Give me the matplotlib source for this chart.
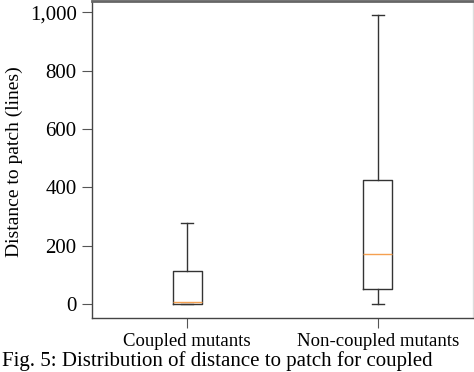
import matplotlib
matplotlib.use("Agg")
import matplotlib.pyplot as plt
from matplotlib.ticker import FuncFormatter

# Valori (distanza dalla patch, in linee)
labels = ["Coupled mutants", "Non-coupled mutants"]
whisker_low = [0, 0]
q1 = [0, 51]
median = [6, 171]
q3 = [113, 425]
whisker_high = [277, 990]

plt.rcParams["font.family"] = ["Liberation Serif", "DejaVu Serif"]

fig = plt.figure(figsize=(4.74, 3.72), dpi=100)
ax = fig.add_axes([0.194, 0.145, 0.804, 0.852])

stats = []
for i, lbl in enumerate(labels):
    stats.append({
        "label": lbl,
        "whislo": whisker_low[i],
        "q1": q1[i],
        "med": median[i],
        "q3": q3[i],
        "whishi": whisker_high[i],
        "fliers": [],
    })

ax.bxp(stats, positions=[1, 2], widths=0.15, capwidths=0.065, showfliers=False,
       boxprops=dict(color="#333333", linewidth=1.0),
       whiskerprops=dict(color="#333333", linewidth=1.0),
       capprops=dict(color="#333333", linewidth=1.0),
       medianprops=dict(color="#f5a050", linewidth=1.0))

ax.set_xlim(0.5, 2.5)
ax.set_ylim(-48, 1038)
ax.set_yticks([0, 200, 400, 600, 800, 1000])
ax.yaxis.set_major_formatter(FuncFormatter(lambda v, p: f"{int(v):,}"))
ax.tick_params(axis="both", length=7, width=0.8, color="#555555")
ax.tick_params(axis="y", labelsize=15, pad=4)
ax.tick_params(axis="x", labelsize=13.5, pad=4)
ax.set_ylabel("Distance to patch (lines)", fontsize=14)
ax.yaxis.set_label_coords(-0.18, 0.495)

for side in ["left", "bottom"]:
    ax.spines[side].set_color("#444444")
    ax.spines[side].set_linewidth(1.0)
ax.spines["top"].set_color("#666666")
ax.spines["top"].set_linewidth(2.0)
ax.spines["right"].set_color("#dddddd")
ax.spines["right"].set_linewidth(1.0)

fig.text(0.005, 0.004, "Fig. 5: Distribution of distance to patch for coupled",
         fontsize=15, ha="left", va="bottom")

fig.savefig("out.png", dpi=100)
